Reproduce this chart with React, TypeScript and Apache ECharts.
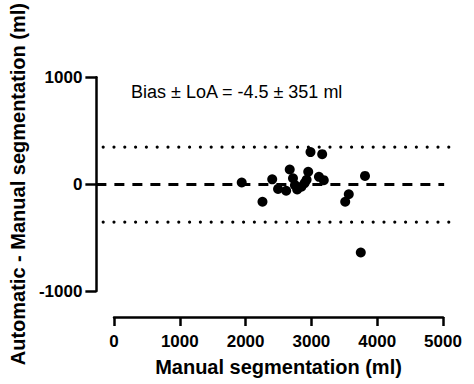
import React, { useEffect, useRef } from "react";
import * as echarts from "echarts";

const manual = [1880, 2200, 2350, 2440, 2565, 2620, 2670, 2700, 2735, 2800, 2850, 2880, 2905, 2940, 3070, 3120, 3145, 3475, 3530, 3715, 3780];
const diff = [15, -165, 45, -45, -62, 137, 55, -10, -50, -25, 10, 40, 115, 300, 68, 280, 37, -165, -95, -640, 77];
const bias = -4.5;
const loa = 351;
const biasRange = [-360, 5000];
const loaRange = [-255, 5090];
const xTicks = [0, 5000, 1000];
const yTicks = [-1000, 1000, 1000];

const FONT = "'Liberation Sans', Arial, sans-serif";

export default function App() {
  const ref = useRef<HTMLDivElement>(null);
  useEffect(() => {
    const chart = echarts.init(ref.current!, undefined, { renderer: "svg" });
    const pts = manual.map((m, i) => [m, diff[i]]);
    const fmt = (v: number) => String(v);
    chart.setOption({
      animation: false,
      backgroundColor: "#fff",
      grid: [
        { left: 90, top: 76, width: 360, height: 215 },
        { left: 114, top: 290, width: 329, height: 27 },
      ],
      xAxis: [
        { gridIndex: 0, type: "value", min: -360, max: 5090, show: false },
        {
          gridIndex: 1,
          type: "value",
          position: "bottom",
          min: xTicks[0],
          max: xTicks[1],
          interval: xTicks[2],
          splitLine: { show: false },
          axisLine: { show: true, onZero: false, lineStyle: { color: "#000", width: 2.5 } },
          axisTick: { show: true, length: 9, lineStyle: { color: "#000", width: 2.5 } },
          axisLabel: { color: "#000", fontFamily: FONT, fontWeight: "bold", fontSize: 17, margin: 16, formatter: fmt },
          name: "Manual segmentation (ml)",
          nameLocation: "middle",
          nameGap: 40,
          nameTextStyle: { color: "#000", fontFamily: FONT, fontWeight: "bold", fontSize: 20 },
        },
      ],
      yAxis: [
        {
          gridIndex: 0,
          type: "value",
          min: yTicks[0],
          max: yTicks[1],
          interval: yTicks[2],
          splitLine: { show: false },
          axisLine: { show: true, onZero: false, lineStyle: { color: "#000", width: 2.5 } },
          axisTick: { show: true, length: 11, lineStyle: { color: "#000", width: 2.5 } },
          axisLabel: { color: "#000", fontFamily: FONT, fontWeight: "bold", fontSize: 17, margin: 14, formatter: fmt },
          name: "Automatic - Manual segmentation (ml)",
          nameLocation: "middle",
          nameGap: 67,
          nameTextStyle: { color: "#000", fontFamily: FONT, fontWeight: "bold", fontSize: 20 },
        },
        { gridIndex: 1, type: "value", show: false, min: 0, max: 1 },
      ],
      graphic: [
        {
          type: "text",
          left: 131,
          top: 83,
          style: { text: "Bias ± LoA = -4.5 ± 351 ml", fill: "#000", font: `18px ${FONT}` },
        },
      ],
      series: [
        {
          type: "line",
          xAxisIndex: 0,
          yAxisIndex: 0,
          data: biasRange.map((x) => [x, bias]),
          symbol: "none",
          lineStyle: { color: "#000", width: 3, type: [10, 8] },
          z: 1,
        },
        {
          type: "line",
          xAxisIndex: 0,
          yAxisIndex: 0,
          data: loaRange.map((x) => [x, bias + loa]),
          symbol: "none",
          lineStyle: { color: "#000", width: 3.2, type: [0, 10.8], cap: "round" },
          z: 1,
        },
        {
          type: "line",
          xAxisIndex: 0,
          yAxisIndex: 0,
          data: loaRange.map((x) => [x, bias - loa]),
          symbol: "none",
          lineStyle: { color: "#000", width: 3.2, type: [0, 10.8], cap: "round" },
          z: 1,
        },
        {
          type: "scatter",
          xAxisIndex: 0,
          yAxisIndex: 0,
          data: pts,
          symbol: "circle",
          symbolSize: 10,
          itemStyle: { color: "#000", opacity: 1 },
          z: 3,
        },
      ],
    });
    return () => chart.dispose();
  }, []);
  return <div ref={ref} style={{ position: "fixed", left: 0, top: 0, width: 474, height: 384 }} />;
}
